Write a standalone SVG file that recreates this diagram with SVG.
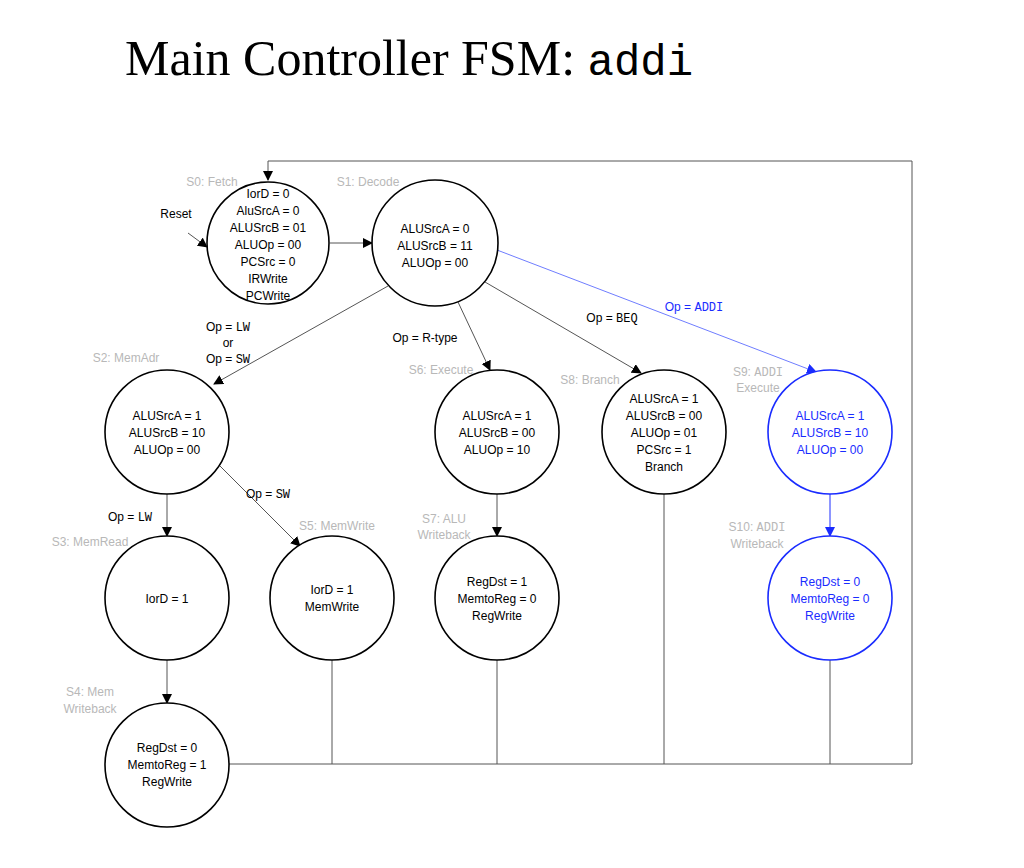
<svg xmlns="http://www.w3.org/2000/svg" width="1024" height="868" viewBox="0 0 1024 868">
<defs>
<marker id="ah" markerWidth="10" markerHeight="10" refX="9" refY="5" orient="auto" markerUnits="userSpaceOnUse"><path d="M0,0 L10,5 L0,10 z" fill="#000"/></marker>
<marker id="ahb" markerWidth="10" markerHeight="10" refX="9" refY="5" orient="auto" markerUnits="userSpaceOnUse"><path d="M0,0 L10,5 L0,10 z" fill="#1a2cff"/></marker>
<style>
.n{fill:#fff;stroke:#000;stroke-width:1.6}
.nb{fill:#fff;stroke:#1a2cff;stroke-width:1.6}
text{font-family:"Liberation Sans",Arial,sans-serif;font-size:12px;text-anchor:middle}
.b{fill:#1a2cff}
.g{fill:#b8b8b8}
.m{font-family:"Liberation Mono",monospace}
.c{fill:none;stroke:#555;stroke-width:1}
.cb{fill:none;stroke:#6f7dff;stroke-width:1}
</style>
</defs>
<rect width="1024" height="868" fill="#fff"/>
<text x="125" y="75" style="font-family:'Liberation Serif',serif;font-size:50px;text-anchor:start">Main Controller FSM: <tspan style="font-family:'Liberation Mono',monospace;font-size:44px">addi</tspan></text>
<g id="connectors">
<polyline class="c" points="229,764 912,764 912,161 268,161 268,180" marker-end="url(#ah)"/>
<line class="c" x1="332" y1="660" x2="332" y2="764"/>
<line class="c" x1="497" y1="660" x2="497" y2="764"/>
<line class="c" x1="664" y1="494" x2="664" y2="764"/>
<line class="c" x1="830" y1="660" x2="830" y2="764"/>
<line class="c" x1="188" y1="233" x2="207" y2="247" marker-end="url(#ah)"/>
<text x="176" y="218">Reset</text>
<line class="c" x1="330" y1="243" x2="372" y2="243" marker-end="url(#ah)"/>
<line class="c" x1="388" y1="286" x2="214" y2="384" marker-end="url(#ah)"/>
<text x="228" y="331">Op = <tspan class="m">LW</tspan></text>
<text x="228" y="347">or</text>
<text x="228" y="363">Op = <tspan class="m">SW</tspan></text>
<line class="c" x1="458" y1="302" x2="490" y2="370" marker-end="url(#ah)"/>
<text x="425" y="342">Op = R-type</text>
<line class="c" x1="485" y1="282" x2="641" y2="373" marker-end="url(#ah)"/>
<text x="612" y="322">Op = <tspan class="m">BEQ</tspan></text>
<line class="cb" x1="497" y1="250" x2="816" y2="372" marker-end="url(#ahb)"/>
<text class="b" x="694" y="311">Op = <tspan class="m">ADDI</tspan></text>
<line class="c" x1="167" y1="494" x2="167" y2="536" marker-end="url(#ah)"/>
<text x="130" y="521">Op = <tspan class="m">LW</tspan></text>
<line class="c" x1="218" y1="464" x2="300" y2="546" marker-end="url(#ah)"/>
<text x="268" y="498">Op = <tspan class="m">SW</tspan></text>
<line class="c" x1="167" y1="660" x2="167" y2="703" marker-end="url(#ah)"/>
<line class="c" x1="497" y1="494" x2="497" y2="536" marker-end="url(#ah)"/>
<line x1="830" y1="494" x2="830" y2="536" stroke="#1a2cff" marker-end="url(#ahb)"/>
</g>
<g id="S0"><circle class="n" cx="268" cy="243" r="61"/>
<text class="g" x="212" y="186">S0: Fetch</text>
<text x="268" y="198">IorD = 0</text><text x="268" y="215">AluSrcA = 0</text><text x="268" y="232">ALUSrcB = 01</text><text x="268" y="249">ALUOp = 00</text><text x="268" y="266">PCSrc = 0</text><text x="268" y="283">IRWrite</text><text x="268" y="300">PCWrite</text></g>
<g id="S1"><circle class="n" cx="435" cy="243" r="63"/>
<text class="g" x="368" y="186">S1: Decode</text>
<text x="435" y="233">ALUSrcA = 0</text><text x="435" y="250">ALUSrcB = 11</text><text x="435" y="267">ALUOp = 00</text></g>
<g id="S2"><circle class="n" cx="167" cy="432" r="62"/>
<text class="g" x="126" y="362">S2: MemAdr</text>
<text x="167" y="420">ALUSrcA = 1</text><text x="167" y="437">ALUSrcB = 10</text><text x="167" y="454">ALUOp = 00</text></g>
<g id="S6"><circle class="n" cx="497" cy="432" r="62"/>
<text class="g" x="441" y="374">S6: Execute</text>
<text x="497" y="420">ALUSrcA = 1</text><text x="497" y="437">ALUSrcB = 00</text><text x="497" y="454">ALUOp = 10</text></g>
<g id="S8"><circle class="n" cx="664" cy="432" r="62"/>
<text class="g" x="590" y="384">S8: Branch</text>
<text x="664" y="403">ALUSrcA = 1</text><text x="664" y="420">ALUSrcB = 00</text><text x="664" y="437">ALUOp = 01</text><text x="664" y="454">PCSrc = 1</text><text x="664" y="471">Branch</text></g>
<g id="S9"><circle class="nb" cx="830" cy="432" r="62"/>
<text class="g" x="758" y="376">S9: <tspan class="m">ADDI</tspan></text><text class="g" x="758" y="392">Execute</text>
<text class="b" x="830" y="420">ALUSrcA = 1</text><text class="b" x="830" y="437">ALUSrcB = 10</text><text class="b" x="830" y="454">ALUOp = 00</text></g>
<g id="S3"><circle class="n" cx="167" cy="598" r="62"/>
<text class="g" x="90" y="546">S3: MemRead</text>
<text x="167" y="603">IorD = 1</text></g>
<g id="S5"><circle class="n" cx="332" cy="598" r="62"/>
<text class="g" x="337" y="530">S5: MemWrite</text>
<text x="332" y="594">IorD = 1</text><text x="332" y="611">MemWrite</text></g>
<g id="S7"><circle class="n" cx="497" cy="598" r="62"/>
<text class="g" x="444" y="523">S7: ALU</text><text class="g" x="444" y="539">Writeback</text>
<text x="497" y="586">RegDst = 1</text><text x="497" y="603">MemtoReg = 0</text><text x="497" y="620">RegWrite</text></g>
<g id="S10"><circle class="nb" cx="830" cy="598" r="62"/>
<text class="g" x="757" y="531">S10: <tspan class="m">ADDI</tspan></text><text class="g" x="757" y="548">Writeback</text>
<text class="b" x="830" y="586">RegDst = 0</text><text class="b" x="830" y="603">MemtoReg = 0</text><text class="b" x="830" y="620">RegWrite</text></g>
<g id="S4"><circle class="n" cx="167" cy="765" r="62"/>
<text class="g" x="90" y="696">S4: Mem</text><text class="g" x="90" y="713">Writeback</text>
<text x="167" y="752">RegDst = 0</text><text x="167" y="769">MemtoReg = 1</text><text x="167" y="786">RegWrite</text></g>
</svg>
